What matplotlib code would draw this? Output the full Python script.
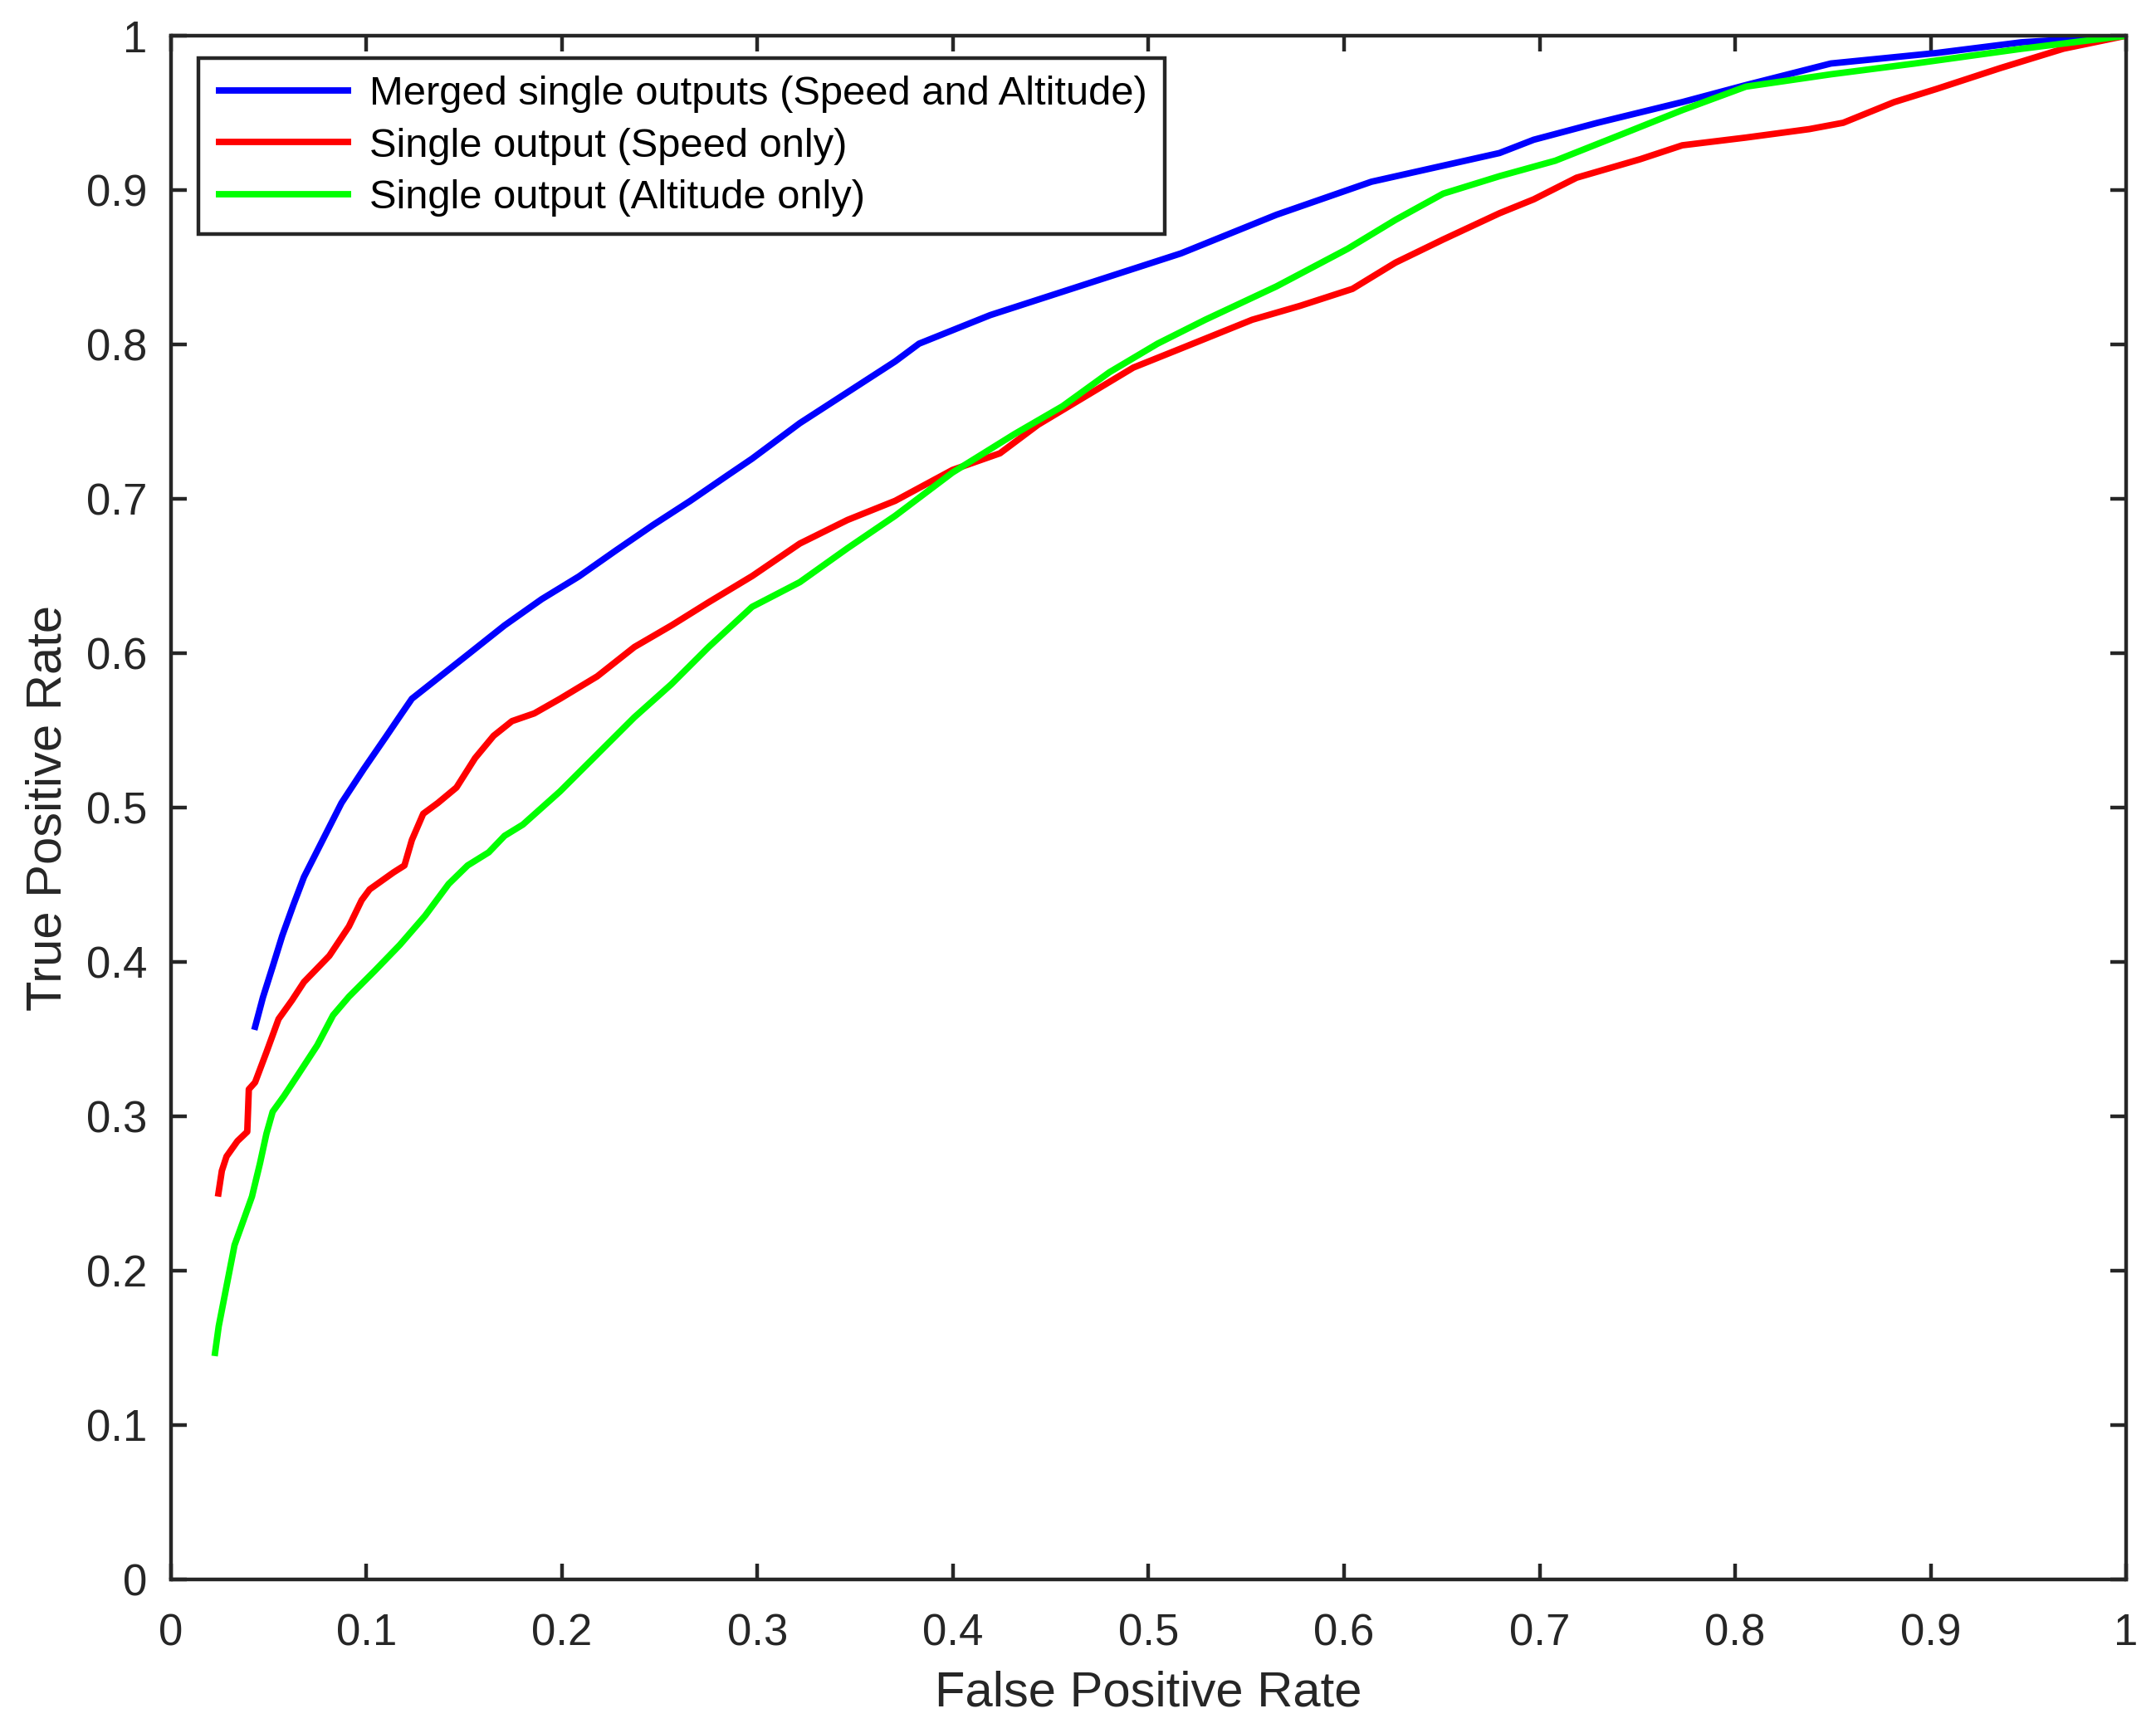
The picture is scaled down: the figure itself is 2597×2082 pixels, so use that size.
import matplotlib
matplotlib.use("Agg")
import matplotlib.pyplot as plt

# ---- data ----
fpr_merged = [0.0426, 0.047, 0.052, 0.0569, 0.0626, 0.068, 0.0748, 0.0872, 0.0986,
              0.110, 0.1175, 0.1232, 0.1327, 0.1517, 0.1706, 0.1896, 0.2086, 0.2275, 0.2465,
              0.2654, 0.2844, 0.2972, 0.3216, 0.346, 0.3704, 0.3826, 0.3948, 0.419, 0.4678,
              0.5166, 0.5654, 0.614, 0.6795, 0.697, 0.7297, 0.773, 0.8055, 0.849, 0.903,
              0.9463, 1.0]
tpr_merged = [0.356, 0.377, 0.397, 0.417, 0.437, 0.455, 0.472, 0.503, 0.525,
              0.546, 0.560, 0.5705, 0.580, 0.599, 0.618, 0.635, 0.6497, 0.6665, 0.683,
              0.6985, 0.715, 0.726, 0.749, 0.769, 0.789, 0.8005, 0.8067, 0.819, 0.839,
              0.859, 0.884, 0.9054, 0.924, 0.9326, 0.9436, 0.957, 0.968, 0.982, 0.9888,
              0.9957, 1.0]

fpr_speed = [0.024, 0.026, 0.0284, 0.034, 0.039, 0.0398, 0.043, 0.0488, 0.055, 0.0618,
             0.068, 0.081, 0.091, 0.0975, 0.1016, 0.1138, 0.1194, 0.1232, 0.129, 0.1365,
             0.146, 0.1555, 0.165, 0.1744, 0.1858, 0.199, 0.218, 0.237, 0.256, 0.275,
             0.2973, 0.3216, 0.346, 0.3704, 0.3997, 0.424, 0.4435, 0.468, 0.4922, 0.5166,
             0.553, 0.5775, 0.6043, 0.6263, 0.6507, 0.6795, 0.697, 0.7189, 0.7515, 0.773,
             0.8055, 0.838, 0.8553, 0.8814, 0.903, 0.9356, 0.968, 1.0]
tpr_speed = [0.248, 0.2647, 0.274, 0.284, 0.290, 0.3175, 0.322, 0.3415, 0.363, 0.375,
             0.387, 0.404, 0.423, 0.440, 0.447, 0.458, 0.4625, 0.479, 0.496, 0.503,
             0.513, 0.532, 0.5465, 0.556, 0.561, 0.5705, 0.585, 0.604, 0.618, 0.633,
             0.650, 0.671, 0.6863, 0.6987, 0.7187, 0.7295, 0.748, 0.7666, 0.785, 0.7974,
             0.816, 0.825, 0.836, 0.853, 0.868, 0.885, 0.894, 0.908, 0.920, 0.929,
             0.934, 0.9395, 0.9436, 0.957, 0.9655, 0.979, 0.9916, 1.0]

fpr_alt = [0.0223, 0.0244, 0.0284, 0.0325, 0.0366, 0.0414, 0.0455, 0.0488, 0.052, 0.0577,
           0.065, 0.0748, 0.0829, 0.091, 0.104, 0.117, 0.130, 0.142, 0.1517, 0.1625,
           0.1706, 0.180, 0.199, 0.218, 0.237, 0.256, 0.275, 0.2972, 0.3216, 0.346,
           0.3704, 0.3997, 0.4315, 0.456, 0.480, 0.5046, 0.529, 0.5654, 0.6019, 0.6263,
           0.6507, 0.6795, 0.708, 0.7406, 0.773, 0.8055, 0.849, 0.892, 0.9463, 1.0]
tpr_alt = [0.1447, 0.164, 0.190, 0.2166, 0.231, 0.248, 0.2695, 0.2887, 0.303, 0.313,
           0.327, 0.346, 0.3655, 0.3775, 0.394, 0.411, 0.430, 0.4505, 0.4625, 0.471,
           0.4817, 0.489, 0.5105, 0.5345, 0.5585, 0.580, 0.604, 0.630, 0.646, 0.668,
           0.689, 0.717, 0.742, 0.760, 0.782, 0.8005, 0.816, 0.8376, 0.862, 0.8807,
           0.8977, 0.909, 0.919, 0.9354, 0.9518, 0.967, 0.975, 0.982, 0.9915, 1.0]

labels = ["Merged single outputs (Speed and Altitude)",
          "Single output (Speed only)",
          "Single output (Altitude only)"]
tick_vals = [0, 0.1, 0.2, 0.3, 0.4, 0.5, 0.6, 0.7, 0.8, 0.9, 1.0]
tick_labels = ["0", "0.1", "0.2", "0.3", "0.4", "0.5", "0.6", "0.7", "0.8", "0.9", "1"]

# ---- style ----
plt.rcParams['font.family'] = ['Liberation Sans', 'DejaVu Sans']
axcol = '#262626'

fig = plt.figure(figsize=(12.985, 10.41), dpi=200)
ax = fig.add_axes([0.07932, 0.08597, 0.90682, 0.89337])

lw = 2.8
ax.plot(fpr_merged, tpr_merged, color=(0, 0, 1), lw=lw, solid_capstyle='butt', label=labels[0])
ax.plot(fpr_speed, tpr_speed, color=(1, 0, 0), lw=lw, solid_capstyle='butt', label=labels[1])
ax.plot(fpr_alt, tpr_alt, color=(0, 1, 0), lw=lw, solid_capstyle='butt', label=labels[2])

ax.set_xlim(0, 1)
ax.set_ylim(0, 1)
ax.set_xticks(tick_vals)
ax.set_xticklabels(tick_labels)
ax.set_yticks(tick_vals)
ax.set_yticklabels(tick_labels)

for s in ax.spines.values():
    s.set_linewidth(1.6)
    s.set_color(axcol)

ax.tick_params(axis='both', direction='in', length=6.8, width=1.6, color=axcol,
               labelcolor=axcol, labelsize=19, top=True, right=True)
ax.tick_params(axis='x', pad=14.5)
ax.tick_params(axis='y', pad=10.4)

ax.set_xlabel("False Positive Rate", fontsize=21.5, color=axcol)
ax.set_ylabel("True Positive Rate", fontsize=21.5, color=axcol)
ax.xaxis.set_label_coords(0.5, -0.059)
ax.yaxis.set_label_coords(-0.051, 0.5)

leg = ax.legend(loc='upper left', bbox_to_anchor=(0.0142, 0.9855), borderaxespad=0,
                fontsize=17.6, handlelength=3.33, handletextpad=0.45, borderpad=0.43,
                labelspacing=0.36, frameon=True, fancybox=False, framealpha=1)
leg.get_frame().set_edgecolor(axcol)
leg.get_frame().set_linewidth(1.6)
for t in leg.get_texts():
    t.set_color('#000000')

fig.savefig("out.png", dpi=200)
